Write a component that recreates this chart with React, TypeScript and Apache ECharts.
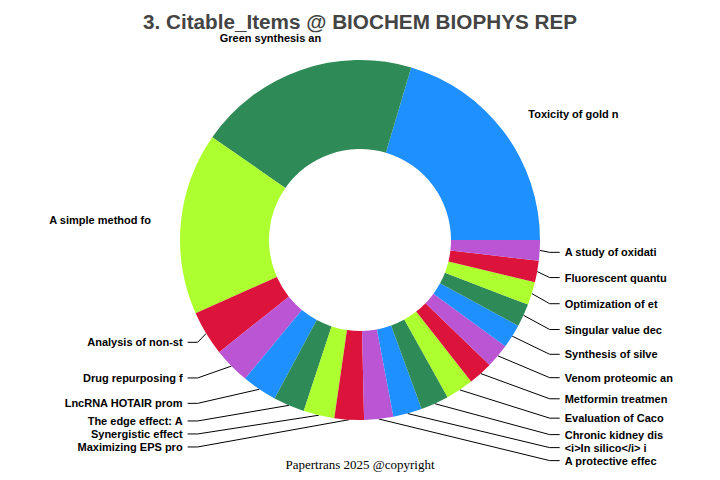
import React, { useEffect, useRef } from "react";
import * as echarts from "echarts";

const TITLE = "3. Citable_Items @ BIOCHEM BIOPHYS REP";
const FOOTER = "Papertrans 2025 @copyright";

const names: string[] = [
  "Toxicity of gold n",
  "Green synthesis an",
  "A simple method fo",
  "Analysis of non-st",
  "Drug repurposing f",
  "LncRNA HOTAIR prom",
  "The edge effect: A",
  "Synergistic effect",
  "Maximizing EPS pro",
  "A protective effec",
  "<i>In silico</i> i",
  "Chronic kidney dis",
  "Evaluation of Caco",
  "Metformin treatmen",
  "Venom proteomic an",
  "Synthesis of silve",
  "Singular value dec",
  "Optimization of et",
  "Fluorescent quantu",
  "A study of oxidati",
];

const values: number[] = [
  73.4, 71.6, 58.8, 14.5, 11.8, 11.3, 10.1, 10.0, 9.5, 9.4, 9.3, 9.1, 9.0, 7.9,
  7.8, 7.7, 7.4, 7.4, 7.0, 6.6,
];

const palette: string[] = ["#1E90FF", "#2E8B57", "#ADFF2F", "#DC143C", "#BA55D3"];

export default function App() {
  const ref = useRef<HTMLDivElement>(null);

  useEffect(() => {
    if (!ref.current) return;
    const chart = echarts.init(ref.current, undefined, { renderer: "svg" });

    const CX = 360;
    const CY = 240;
    const R_IN = 91;
    const R_OUT = 180;
    const LEN = 10; // label line radial length used for alignment
    const LEN2 = 10;
    const DIST = 5;
    const LEN_LEFT = 17; // spreading of left labels
    const LEN_RIGHT = 34; // spreading of right labels
    const BIG = 3; // first three (large) slices carry their own labels

    const bigLabel: Record<number, { len: number; len2: number }> = {
      0: { len: 30, len2: 0 },
      1: { len: 34, len2: -32 },
      2: { len: 30, len2: 0 },
    };

    const font = {
      fontFamily: "Liberation Sans, Arial, sans-serif",
      fontSize: 11,
      fontWeight: "bold" as const,
      color: "#000000",
    };

    const mainData = names.map((name, i) => {
      const item: any = { name, value: values[i] };
      if (i < BIG) {
        item.label = { show: false };
        item.labelLine = { show: false };
      } else {
        const leftSide = i <= 8;
        item.labelLine = { length: leftSide ? LEN_LEFT : LEN_RIGHT };
      }
      return item;
    });

    const bigData = names.map((name, i) => {
      const item: any = { name, value: values[i] };
      if (bigLabel[i]) {
        item.labelLine = { show: false, length: bigLabel[i].len, length2: bigLabel[i].len2 };
      } else {
        item.label = { show: false };
        item.labelLine = { show: false };
      }
      return item;
    });

    chart.setOption({
      animation: false,
      color: palette,
      title: {
        text: TITLE,
        left: "center",
        top: 6,
        textStyle: {
          fontFamily: "Liberation Sans, Arial, sans-serif",
          fontSize: 20.7,
          fontWeight: "bold",
          color: "#444444",
        },
      },
      graphic: [
        {
          type: "text",
          left: "center",
          top: 458,
          style: {
            text: FOOTER,
            font: '13px "Liberation Serif", "Times New Roman", serif',
            fill: "#000000",
          },
        },
      ],
      series: [
        {
          type: "pie",
          center: [CX, CY],
          radius: [R_IN, R_OUT],
          startAngle: 0,
          clockwise: false,
          avoidLabelOverlap: true,
          label: {
            show: true,
            position: "outer",
            alignTo: "labelLine",
            distanceToLabelLine: DIST,
            ...font,
          },
          labelLine: {
            show: true,
            length: LEN,
            length2: LEN2,
            lineStyle: { color: "#000000", width: 1 },
          },
          labelLayout: (params: any) => {
            const pts = params.labelLinePoints;
            if (!pts || pts.length < 3) return {};
            const end = pts[2];
            const sign = end[0] > CX ? 1 : -1;
            const used = sign > 0 ? LEN_RIGHT : LEN_LEFT;
            const reach = ((Math.abs(end[0] - CX) - LEN2) * (R_OUT + LEN)) / (R_OUT + used);
            const newEnd = CX + sign * (reach + LEN2);
            return {
              x: newEnd + sign * DIST,
              labelLinePoints: [
                [pts[0][0], pts[0][1]],
                [newEnd - sign * LEN2, end[1]],
                [newEnd, end[1]],
              ],
            };
          },
          itemStyle: { borderWidth: 0 },
          emphasis: { disabled: true },
          data: mainData,
        },
        {
          type: "pie",
          silent: true,
          center: [CX, CY],
          radius: [R_IN, R_OUT],
          startAngle: 0,
          clockwise: false,
          avoidLabelOverlap: true,
          label: {
            show: true,
            position: "outer",
            alignTo: "none",
            distanceToLabelLine: 0,
            ...font,
          },
          labelLine: { show: false },
          itemStyle: { color: "rgba(0,0,0,0)", borderWidth: 0 },
          emphasis: { disabled: true },
          data: bigData,
        },
      ],
    });

    return () => chart.dispose();
  }, []);

  return (
    <div
      ref={ref}
      style={{ position: "fixed", left: 0, top: 0, width: 720, height: 480, background: "#ffffff" }}
    />
  );
}
